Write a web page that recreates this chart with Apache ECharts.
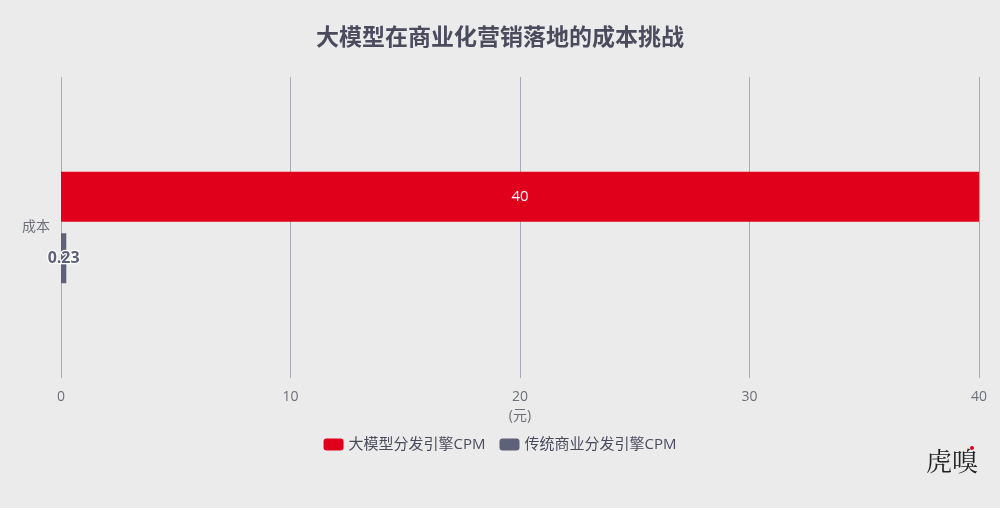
<!DOCTYPE html>
<html><head><meta charset="utf-8">
<script src="https://cdn.jsdelivr.net/npm/echarts@6/dist/echarts.min.js"></script>
<style>html,body{margin:0;padding:0;background:#ebebeb}#c{width:1000px;height:508px}</style>
</head><body><div id="c"></div>
<script>
const categories = ['成本'];
const seriesNames = ['大模型分发引擎CPM', '传统商业分发引擎CPM'];
const bigModel = [40];
const traditional = [0.23];
const xTicks = [0, 10, 20, 30, 40];

const font = '"Open Sans","Noto Sans CJK SC",sans-serif';
const chart = echarts.init(document.getElementById('c'));
chart.setOption({
  backgroundColor: '#ebebeb',
  title: {
    text: '大模型在商业化营销落地的成本挑战', left: 'center', top: 20,
    textStyle: {fontSize: 23, fontWeight: 'bold', color: '#4b4b5e', fontFamily: '"Noto Sans CJK SC",sans-serif'}
  },
  legend: {
    bottom: 51, left: 'center', itemWidth: 20, itemHeight: 12, itemGap: 14, icon: 'roundRect',
    textStyle: {fontSize: 15, color: '#4b4b5e', fontFamily: font},
    data: seriesNames
  },
  grid: {left: 61, right: 21, top: 77, bottom: 130},
  xAxis: {
    type: 'value', min: xTicks[0], max: xTicks[xTicks.length - 1], interval: 10,
    name: '(元)', nameLocation: 'middle', nameGap: 29,
    nameTextStyle: {color: '#6e7079', fontSize: 14, fontFamily: font},
    axisLine: {show: false}, axisTick: {show: false},
    axisLabel: {color: '#6e7079', fontSize: 14, margin: 12, fontFamily: font},
    splitLine: {show: true, lineStyle: {color: '#a9a9b3', width: 1}}
  },
  yAxis: {
    type: 'category', data: categories, inverse: true,
    axisLine: {show: false}, axisTick: {show: false},
    axisLabel: {color: '#6e7079', fontSize: 14, margin: 11, fontFamily: font}
  },
  series: [
    {name: seriesNames[0], type: 'bar', data: bigModel, barWidth: 50, barGap: '23%',
     itemStyle: {color: '#e0001b'},
     label: {show: true, position: 'inside', color: '#fff', fontSize: 15, fontFamily: font}},
    {name: seriesNames[1], type: 'bar', data: traditional, barWidth: 50,
     itemStyle: {color: '#5f6179'},
     label: {show: true, position: 'inside', color: '#5f6179', fontSize: 16, fontWeight: 'bold', fontFamily: font,
             textBorderColor: '#fff', textBorderWidth: 2.5}}
  ],
  graphic: [
    {type: 'text', right: 22, bottom: 34,
     style: {text: '虎嗅', fontSize: 26, fill: '#222', fontFamily: '"Noto Serif CJK SC","Noto Sans CJK SC",serif'}},
    {type: 'circle', shape: {cx: 972, cy: 448, r: 2}, style: {fill: '#e0001b'}}
  ]
});
</script></body></html>
